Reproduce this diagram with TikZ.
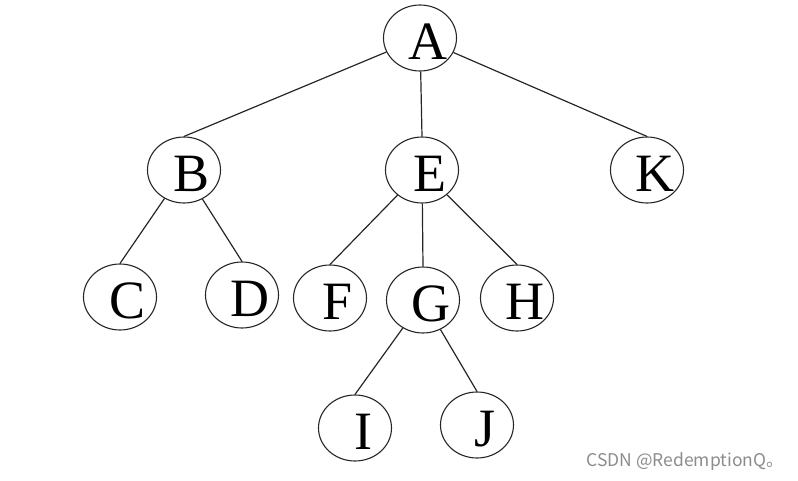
\documentclass[tikz,border=0pt]{standalone}
\usepackage{fontspec}
\setmainfont{Liberation Serif}
\newfontfamily\cjk{Noto Sans CJK SC}
\usetikzlibrary{shapes.geometric}
\begin{document}
\begin{tikzpicture}[x=1pt,y=-1pt,
  tnode/.style={ellipse,draw=black!85,line width=1.1pt,minimum width=73pt,minimum height=66pt,inner sep=0pt,
    label={[lbl]center:#1}},
  lbl/.style={font=\fontsize{54}{54}\selectfont,xshift=8pt,yshift=-4pt,inner sep=0pt},
  edge/.style={draw=black!85,line width=1.2pt}]
\useasboundingbox (0,0) rectangle (798,481);
\node[tnode=A] (A) at (420,38) {};
\node[tnode=B] (B) at (184,170) {};
\node[tnode=E] (E) at (422,170) {};
\node[tnode=K] (K) at (647,170) {};
\node[tnode=C] (C) at (120,297) {};
\node[tnode=D] (D) at (242,295) {};
\node[tnode=F] (F) at (330,298) {};
\node[tnode=G] (G) at (423,300) {};
\node[tnode=H] (H) at (517,298) {};
\node[tnode=I] (I) at (355,428) {};
\node[tnode=J] (J) at (477,425) {};
\draw[edge] (A) -- (B.north);
\draw[edge] (A) -- (E.north);
\draw[edge] (A) -- (K.north);
\draw[edge] (B) -- (C.north);
\draw[edge] (B) -- (D.north);
\draw[edge] (E) -- (F.north);
\draw[edge] (E) -- (G.north);
\draw[edge] (E) -- (H.north);
\draw[edge] (G) -- (I.north);
\draw[edge] (G) -- (J.north);
\node[anchor=east,inner sep=0pt,text=black!45,font=\cjk\fontsize{17.5}{17.5}\selectfont] (wm) at (784,462) {CSDN @RedemptionQ。};
\end{tikzpicture}
\end{document}
